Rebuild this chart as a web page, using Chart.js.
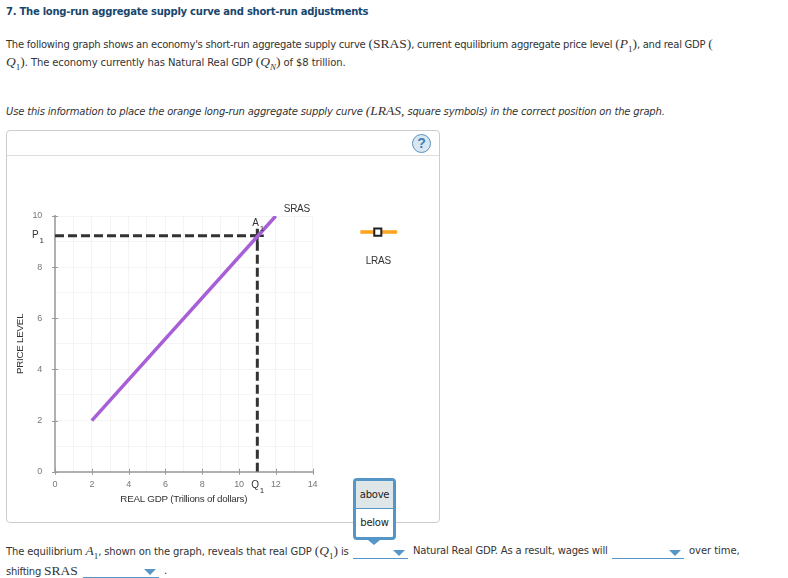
<!DOCTYPE html>
<html>
<head>
<meta charset="utf-8">
<script src="https://cdn.jsdelivr.net/npm/chart.js@4"></script>
<style>
html, body { margin: 0; padding: 0; background: #fff; }
body { width: 788px; height: 578px; overflow: hidden; position: relative; font-family: "DejaVu Sans", sans-serif; font-size: 10px; letter-spacing: -0.25px; color: #333; }
.line { position: absolute; white-space: nowrap; line-height: 14px; }
.m { font-family: "Liberation Serif", serif; font-size: 13.5px; letter-spacing: 0; }
.m sub { font-size: 9px; line-height: 0; }
#titulo { left: 6px; top: 5px; font-weight: bold; color: #17466e; }
#painel { position: absolute; left: 6px; top: 130px; width: 432px; height: 391px; border: 1px solid #ccc; border-radius: 4px; }
#cabecalho { position: absolute; left: 0; top: 0; width: 432px; height: 24px; border-bottom: 1px solid #ddd; }
#ajuda { position: absolute; left: 405px; top: 3px; width: 17px; height: 17px; border: 1px solid #5b93bf; border-radius: 50%; background: #d9e7f2; color: #3f7fb2; font: bold 14px/17px "Liberation Sans", sans-serif; text-align: center; }
#grafico { position: absolute; left: 7px; top: 156px; }
.caixa { position: absolute; height: 14px; border-bottom: 1px solid #5596c9; }
.caixa::after { content: ""; position: absolute; right: 3px; top: 6px; border-left: 6px solid transparent; border-right: 6px solid transparent; border-top: 6px solid #5596c9; }
#popup { position: absolute; left: 353px; top: 478px; width: 37px; height: 56px; border: 3px solid #5596c9; border-radius: 4px; background: #fff; text-align: center; line-height: 27px; color: #222; }
#popup div:first-child { background: #dfe6e8; border-bottom: 1px solid #5596c9; height: 27px; }
#seta { position: absolute; left: 368px; top: 540px; border-left: 6px solid transparent; border-right: 6px solid transparent; border-top: 5px solid #5596c9; }
</style>
</head>
<body>
<div class="line" id="titulo">7. The long-run aggregate supply curve and short-run adjustments</div>
<div class="line" style="left:6px;top:37px">The following graph shows an economy's short-run aggregate supply curve <span class="m">(SRAS)</span>, current equilibrium aggregate price level <span class="m">(<i>P</i><sub>1</sub>)</span>, and real GDP <span class="m">(</span></div>
<div class="line" style="left:6px;top:55px;letter-spacing:-0.1px"><span class="m"><i>Q</i><sub>1</sub>)</span>. The economy currently has Natural Real GDP <span class="m">(<i>Q<sub>N</sub></i>)</span> of $8 trillion.</div>
<div class="line" style="left:6px;top:104px;letter-spacing:-0.18px"><i>Use this information to place the orange long-run aggregate supply curve <span class="m">(LRAS,</span> square symbols) in the correct position on the graph.</i></div>

<div id="painel"><div id="cabecalho"></div><div id="ajuda">?</div></div>
<canvas id="grafico" width="432" height="366"></canvas>

<div class="line" style="left:6px;top:544px;letter-spacing:-0.13px">The equilibrium <span class="m"><i>A</i><sub>1</sub></span>, shown on the graph, reveals that real GDP <span class="m">(<i>Q</i><sub>1</sub>)</span> is</div>
<div class="caixa" style="left:353px;top:544px;width:55px"></div>
<div class="line" style="left:413px;top:544px;letter-spacing:-0.18px">Natural Real GDP. As a result, wages will</div>
<div class="caixa" style="left:612px;top:544px;width:72px"></div>
<div class="line" style="left:689px;top:544px;letter-spacing:-0.05px">over time,</div>
<div class="line" style="left:6px;top:564px">shifting <span class="m">SRAS</span></div>
<div class="caixa" style="left:83px;top:563px;width:76px"></div>
<div class="line" style="left:164px;top:564px">.</div>
<div id="popup"><div>above</div><div>below</div></div>
<div id="seta"></div>

<script>
// dados
const srasX = [2, 12];
const srasY = [2, 10];
const p1LineX = [0, 11.3];
const p1LineY = [9.23, 9.23];
const q1LineX = [11, 11];
const q1LineY = [0, 9.5];
const equilibrioX = [11];
const equilibrioY = [9.23];
// fora de ordem de proposito: assim o Chart.js nao corta os pontos alem do eixo
const lrasX = [17.55, 16.6, 18.6];
const lrasY = [9.37, 9.37, 9.37];
const xMax = 14;
const yMax = 10;

function pontos(xs, ys) {
    return xs.map((x, i) => ({ x: x, y: ys[i] }));
}

// marcas dos eixos e rotulos P1, Q1, A1, SRAS, LRAS
const rotulos = {
    id: 'rotulos',
    afterDatasetsDraw(chart) {
        const c = chart.ctx, sx = chart.scales.x, sy = chart.scales.y;
        c.save();
        c.strokeStyle = '#999';
        c.lineWidth = 1;
        sx.ticks.forEach(t => {
            if (t.value % 2) return;
            const px = Math.round(sx.getPixelForValue(t.value)) + 0.5;
            c.beginPath(); c.moveTo(px, sy.bottom - 3); c.lineTo(px, sy.bottom + 3); c.stroke();
        });
        sy.ticks.forEach(t => {
            if (t.value % 2) return;
            const py = Math.round(sy.getPixelForValue(t.value)) + 0.5;
            c.beginPath(); c.moveTo(sx.left - 3, py); c.lineTo(sx.left + 3, py); c.stroke();
        });
        // o quadrado do LRAS fica fora da area do grafico
        chart.getDatasetMeta(4).data[0].draw(c, { left: 0, top: 0, right: chart.width, bottom: chart.height });
        c.fillStyle = '#333';
        c.textBaseline = 'middle';
        function texto(txt, sub, x, y) {
            c.textAlign = 'left';
            c.font = '10px "Liberation Sans"';
            c.fillText(txt, x, y);
            if (sub) {
                const w = c.measureText(txt).width;
                c.font = '8px "Liberation Sans"';
                c.fillText(sub, x + w + 1, y + 5);
            }
        }
        texto('P', '1', sx.left - 23, sy.getPixelForValue(p1LineY[0]));
        texto('Q', '1', sx.getPixelForValue(q1LineX[0]) - 6, sy.bottom + 14);
        texto('A', '1', sx.getPixelForValue(equilibrioX[0]) - 5, sy.getPixelForValue(equilibrioY[0]) - 12);
        texto('SRAS', '', sx.getPixelForValue(srasX[1]) + 8, sy.top - 7);
        texto('LRAS', '', sx.getPixelForValue(lrasX[0]) - 12, sy.getPixelForValue(lrasY[0]) + 29);
        c.restore();
    }
};

new Chart(document.getElementById('grafico'), {
    type: 'scatter',
    data: {
        datasets: [
            { data: pontos(srasX, srasY), showLine: true, borderColor: '#a75fd8', borderWidth: 3.5, pointRadius: 0, borderCapStyle: 'butt' },
            { data: pontos(p1LineX, p1LineY), showLine: true, borderColor: '#333', borderWidth: 3, borderDash: [9, 4], pointRadius: 0 },
            { data: pontos(q1LineX, q1LineY), showLine: true, borderColor: '#333', borderWidth: 3, borderDash: [9, 4], pointRadius: 0 },
            { data: pontos(equilibrioX, equilibrioY), pointStyle: 'cross', pointRadius: 6.5, borderColor: '#333', borderWidth: 2.5, clip: false },
            {
                data: pontos(lrasX, lrasY), showLine: true, borderColor: '#ffa31a', borderWidth: 3.5, clip: false,
                pointStyle: 'rect', pointRadius: [5, 0, 0], pointBackgroundColor: '#fff', pointBorderColor: '#222', pointBorderWidth: 2
            }
        ]
    },
    options: {
        responsive: false,
        animation: false,
        events: [],
        layout: { padding: { top: 60, right: 126.5, left: 0, bottom: 0 } },
        plugins: { legend: { display: false }, tooltip: { enabled: false } },
        scales: {
            x: {
                type: 'linear', min: 0, max: xMax,
                afterFit(scale) { scale.height = 50.3; },
                grid: { color: '#f4f4f4', drawTicks: false },
                border: { color: '#b0b0b0', width: 2 },
                ticks: {
                    stepSize: 1, autoSkip: false, maxRotation: 0, padding: 7, color: '#777',
                    font: { family: 'Liberation Sans', size: 9 },
                    callback: v => (v % 2 ? '' : v)
                },
                title: { display: true, text: 'REAL GDP (Trillions of dollars)', color: '#333', font: { family: 'Liberation Sans', size: 9.8 }, padding: { top: 0, bottom: 17 } }
            },
            y: {
                type: 'linear', min: 0, max: yMax,
                afterFit(scale) { scale.width = 48; },
                grid: { color: '#f4f4f4', drawTicks: false },
                border: { color: '#b0b0b0', width: 2 },
                ticks: {
                    stepSize: 1, autoSkip: false, padding: 13, color: '#777',
                    font: { family: 'Liberation Sans', size: 9 },
                    callback: v => (v % 2 ? '' : v)
                },
                title: { display: true, text: 'PRICE LEVEL', color: '#333', font: { family: 'Liberation Sans', size: 9.8 }, padding: { top: 7, bottom: 0 } }
            }
        }
    },
    plugins: [rotulos]
});
</script>
</body>
</html>
